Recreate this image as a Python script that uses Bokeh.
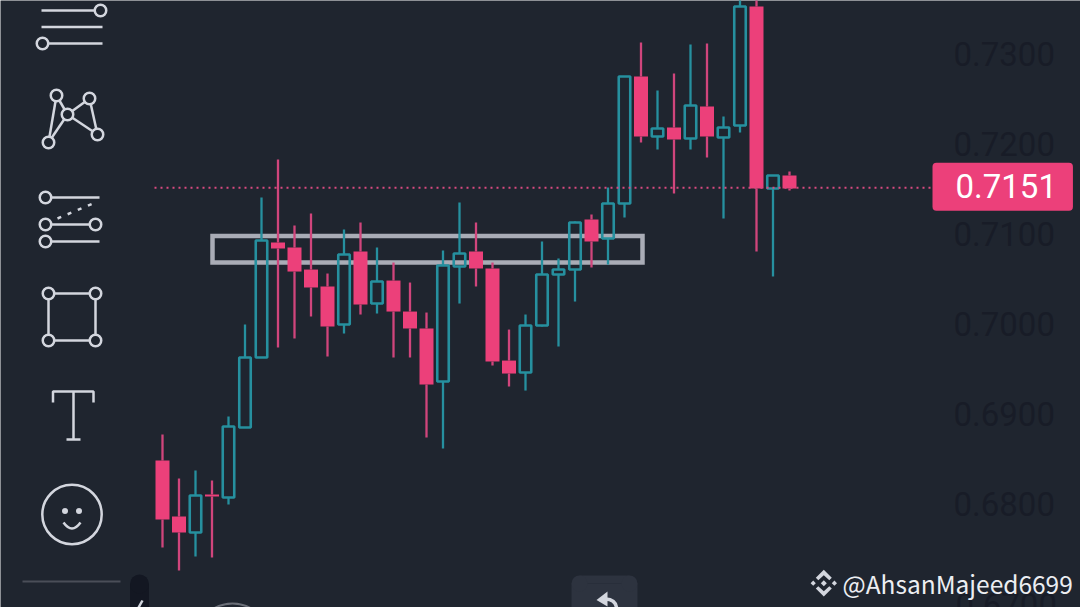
from bokeh.embed import file_html
from bokeh.models import FixedTicker, Label, LinearAxis, PrintfTickFormatter, Range1d
from bokeh.plotting import figure
from bokeh.resources import INLINE

# --- chart data ------------------------------------------------------------
opens_close_top = [0.68482,0.67861,0.68094,0.68105,0.68860,0.69626,0.70924,0.70902,0.70847,0.70602,
                   0.70414,0.70769,0.70802,0.70469,0.70480,0.70136,0.69948,0.70647,0.70780,0.70802,
                   0.70614,0.69592,0.69981,0.70547,0.70602,0.71124,0.71157,0.71335,0.72745,0.72745,
                   0.72168,0.72179,0.72423,0.72412,0.72179,0.73522,0.73522,0.71646,0.71646]
opens_close_bottom = [0.67827,0.67683,0.67683,0.68082,0.68072,0.68849,0.69626,0.70836,0.70580,0.70403,
                      0.69970,0.69992,0.70214,0.70225,0.70136,0.69948,0.69326,0.69359,0.70636,0.70614,
                      0.69581,0.69448,0.69459,0.69981,0.70547,0.70602,0.70913,0.70947,0.71335,0.72079,
                      0.72079,0.72045,0.72057,0.72079,0.72068,0.72201,0.71502,0.71502,0.71502]
highs = [0.68771,0.68283,0.68371,0.68260,0.68971,0.69992,0.71402,0.71823,0.71091,0.71224,
         0.70558,0.71046,0.71124,0.70847,0.70680,0.70458,0.70125,0.70813,0.71346,0.71124,
         0.70680,0.69936,0.70103,0.70913,0.70725,0.71135,0.71213,0.71513,0.72745,0.73122,
         0.72589,0.72778,0.73100,0.73111,0.72301,0.73650,0.73650,0.71646,0.71690]
lows = [0.67517,0.67261,0.67417,0.67406,0.67994,0.68849,0.69626,0.69737,0.69837,0.70081,
        0.69637,0.69892,0.70103,0.70114,0.69626,0.69626,0.68738,0.68616,0.70225,0.70414,
        0.69537,0.69304,0.69259,0.69970,0.69748,0.70247,0.70625,0.70658,0.71180,0.72012,
        0.71934,0.71446,0.71934,0.71846,0.71169,0.72123,0.70802,0.70525,0.71479]
directions = list("DDUDUUUDDDDUDUDDDUUDDDUUUUDUUDUDUDUUDUD")
last_price = 0.7151
price_ticks = [0.68, 0.69, 0.70, 0.71, 0.72, 0.73]
bottom_tick_label = "0.6700"

BG, PINK, TEAL, ICON = "#1f252f", "#ec407a", "#26909f", "#d3d6de"
TICK_TEXT = "#181c27"

# --- figure ----------------------------------------------------------------
W, H = 1080, 607
p = figure(width=W, height=H, output_backend="svg", toolbar_location=None,
           min_border_left=0, min_border_top=0, min_border_bottom=0, min_border_right=0,
           x_axis_type=None, y_axis_type=None,
           background_fill_color=BG, border_fill_color=BG, outline_line_color=None)
p.grid.visible = False
# price scale: 90.1 px per 0.01; candles 16.5 px apart, first centred on x=162 of the page
p.y_range = Range1d(0.73 - (H - 53) / 9010, 0.73 + 53 / 9010)
p.x_range = Range1d(-162 / 16.5, (W - 162) / 16.5)
# page-pixel ranges for the drawing tools and decoration
p.extra_x_ranges["px"] = Range1d(0, W)
p.extra_y_ranges["px"] = Range1d(H, 0)
PX = dict(x_range_name="px", y_range_name="px")

axis = LinearAxis(ticker=FixedTicker(ticks=price_ticks), formatter=PrintfTickFormatter(format="%.4f"),
                  axis_line_color=None, major_tick_line_color=None, minor_tick_line_color=None,
                  major_label_text_color=TICK_TEXT, major_label_text_font="Roboto",
                  major_label_text_font_size="33px", major_label_standoff=-133)
p.add_layout(axis, "right")
p.add_layout(Label(x=955, y=604.5, text=bottom_tick_label, text_color=TICK_TEXT, text_font="Roboto",
                   text_font_size="33px", text_baseline="middle", text_align="left", **PX))

# --- drawn rectangle behind the candles ------------------------------------
p.quad(left=[212], right=[642], top=[235.5], bottom=[262], fill_color=None,
       line_color="#a9acb6", line_width=4.5, line_join="miter", **PX)

# --- candles ---------------------------------------------------------------
idx = list(range(len(highs)))
up = [i for i in idx if directions[i] == "U"]
dn = [i for i in idx if directions[i] == "D"]
for group, col in ((dn, PINK), (up, TEAL)):
    wick_col = "#d0457c" if col == PINK else col
    p.segment(group, [highs[i] for i in group], group, [opens_close_top[i] for i in group],
              line_color=wick_col, line_width=2.3)
    p.segment(group, [opens_close_bottom[i] for i in group], group, [lows[i] for i in group],
              line_color=wick_col, line_width=2.3)
p.vbar(x=dn, width=14 / 16.5, top=[opens_close_top[i] for i in dn],
       bottom=[opens_close_bottom[i] for i in dn], fill_color=PINK, line_color=None)
p.vbar(x=up, width=11.5 / 16.5, top=[opens_close_top[i] for i in up],
       bottom=[opens_close_bottom[i] for i in up], fill_color=None, line_color=TEAL, line_width=2.6)

# --- last-price line and tag -----------------------------------------------
p.line([154, 932], [last_price, last_price], x_range_name="px",
       line_color="#d84a80", line_width=2, line_dash="2 4")
tag = Label(x=932, y=last_price + 0.0001, x_range_name="px", text=f"{last_price:.4f}", text_color="#ffffff",
            text_font="Roboto", text_font_size="33px", text_baseline="middle", text_align="left",
            background_fill_color=PINK, padding=(23, 16, 11, 13), border_radius=4)
p.add_layout(tag)

# --- left toolbar icons ----------------------------------------------------
def lines(*pts, width=2.5, color=ICON, dash="solid"):
    for (x0, y0), (x1, y1) in pts:
        p.line([x0, x1], [y0, y1], line_color=color, line_width=width, line_dash=dash, **PX)

def rings(pts, size=11.5):
    p.scatter([a for a, _ in pts], [b for _, b in pts], size=size, fill_color=BG,
              line_color=ICON, line_width=2.5, **PX)

# sliders
lines(((41, 10), (95, 10)), ((41, 26.5), (102, 26.5)), ((42, 43), (102, 43)))
rings([(100, 10), (42, 43)])
# network
n = {"a": (56, 95), "b": (89, 98), "c": (67, 114), "d": (97, 134), "e": (48, 142)}
lines((n["e"], n["a"]), (n["a"], n["c"]), (n["c"], n["e"]), (n["c"], n["b"]), (n["b"], n["d"]), (n["c"], n["d"]))
rings(list(n.values()))
# parallel lines
lines(((45, 197), (99, 197)), ((45, 224), (95, 224)), ((45, 241), (99, 241)))
lines(((57, 218), (95, 202)), dash="4 7")
rings([(45, 197), (45, 224), (95, 224), (45, 241)])
# rectangle
sq = [(48, 293), (95, 293), (95, 340), (48, 340)]
lines((sq[0], sq[1]), (sq[1], sq[2]), (sq[2], sq[3]), (sq[3], sq[0]))
rings(sq)
# text tool
p.line([52.5, 52.5, 93, 93], [402, 391, 391, 402], line_color=ICON, line_width=2.5, **PX)
lines(((73, 391), (73, 439)), ((66, 439), (80, 439)))
# smiley
p.circle([71.5], [514], radius=29.7, fill_color=None, line_color=ICON, line_width=2.5, **PX)
p.circle([64.5, 78.5], [510.5, 510.5], radius=3, fill_color=ICON, line_color=None, **PX)
p.quadratic([63], [522], [80], [522], [71.5], [534], line_color=ICON, line_width=2.5, **PX)
# divider and pill
lines(((22, 581), (120, 581)), color="#4a4e58", width=2)
p.quad(left=[129.5], right=[148.5], top=[607], bottom=[583.5], fill_color="#131722", line_color=None, **PX)
p.ellipse([139], [583.5], width=19, height=19, fill_color="#131722", line_color=None, **PX)
lines(((138, 607), (142, 600)), color=ICON, width=2.5)
# partly hidden round control
p.circle([232], [640], radius=37, fill_color=None, line_color="#6b6f78", line_width=2, **PX)
# bottom button with the undo arrow
BTN = "#2d333f"
p.quad(left=[571], right=[637], top=[607], bottom=[583], fill_color=BTN, line_color=None, **PX)
p.quad(left=[579], right=[629], top=[583], bottom=[575], fill_color=BTN, line_color=None, **PX)
p.ellipse([579, 629], [583, 583], width=16, height=16, fill_color=BTN, line_color=None, **PX)
p.patch([596, 607, 607], [599.5, 591, 606], fill_color=ICON, line_color=None, **PX)
p.quadratic([605], [598.5], [616], [607], [615], [599], line_color=ICON, line_width=3.5, **PX)

# --- watermark -------------------------------------------------------------
cx, cy = 823.3, 582.7
def diamond(x, y, r):
    return [x - r, x, x + r, x], [y, y - r, y, y + r]
ds = [diamond(cx, cy, 3), diamond(cx - 10.6, cy, 2.6), diamond(cx + 10.6, cy, 2.6)]
p.patches([d[0] for d in ds], [d[1] for d in ds], fill_color=ICON, line_color=None, **PX)
for s in (-1, 1):
    p.patch([cx, cx + 8, cx + 5.5, cx, cx - 5.5, cx - 8],
            [cy + s * 13.4, cy + s * 5.4, cy + s * 3, cy + s * 8, cy + s * 3, cy + s * 5.4],
            fill_color=ICON, line_color=None, **PX)
mark = Label(x=842, y=583, text="@AhsanMajeed6699", text_color="#eceef2", text_font="Noto Sans CJK SC",
             text_font_size="24.5px", text_baseline="middle", text_align="left", **PX)
p.add_layout(mark)

open("out.html", "w").write(file_html(p, INLINE))
